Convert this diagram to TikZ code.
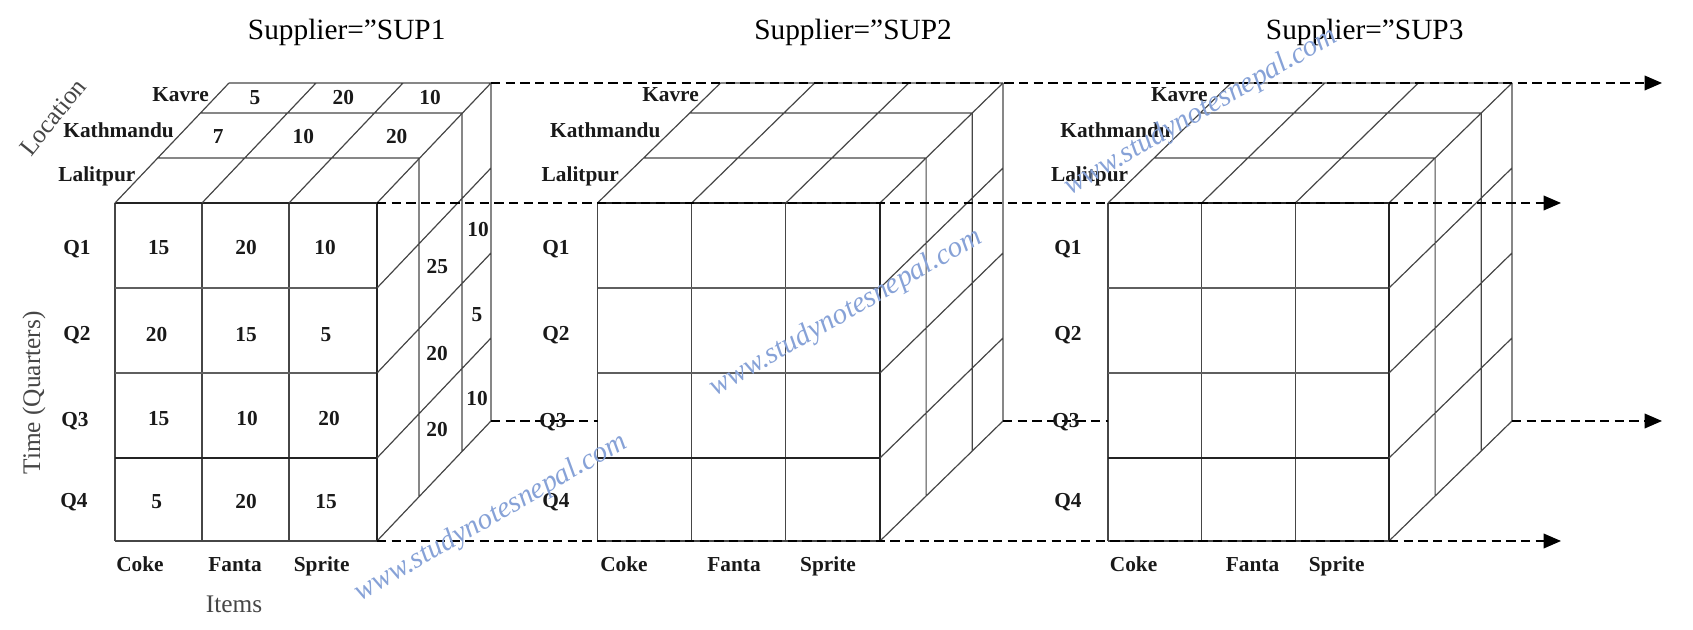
\documentclass[tikz,border=0pt]{standalone}
\usepackage{fontspec}
\setmainfont{Liberation Serif}
\usetikzlibrary{arrows.meta}

\begin{document}
\begin{tikzpicture}[x=0.75pt,y=0.75pt,yscale=-1,xscale=1,
  gridln/.style={draw={rgb, 255:red, 70; green, 70; blue, 70 }, line width=0.9pt},
  rowln/.style={draw={rgb, 255:red, 95; green, 95; blue, 95 }, line width=1.4pt},
  edgeln/.style={draw={rgb, 255:red, 35; green, 35; blue, 35 }, line width=1.5pt},
  guide/.style={draw=black, line width=1pt, dash pattern=on 7pt off 4pt},
  guidearrow/.style={guide, -{Triangle[length=13pt,width=11pt]}},
  cell/.style={inner sep=0.75pt, font=\bfseries\fontsize{16}{19}\selectfont, text={rgb, 255:red, 25; green, 25; blue, 25 }},
  axislbl/.style={inner sep=0.75pt, font=\fontsize{19}{22}\selectfont, text={rgb, 255:red, 70; green, 70; blue, 70 }},
  heading/.style={inner sep=0.75pt, font=\fontsize{22}{26}\selectfont},
  wmark/.style={inner sep=0.75pt, rotate=30, font=\itshape\fontsize{22}{26}\selectfont, text={rgb, 255:red, 135; green, 162; blue, 215 }}
]
\useasboundingbox (0,0) rectangle (1693,630);

%Shape: Cube SUP1 front
\draw [gridln] (115,203) -- (115,541) (202,203) -- (202,541) (289,203) -- (289,541) (115,541) -- (377,541) ;
\draw [rowln] (115,288) -- (377,288) (115,373) -- (377,373) ;
\draw [edgeln] (115,203) -- (377,203) -- (377,541) (115,458) -- (377,458) ;
%Shape: Cube SUP1 top
\draw [gridln] (157,158) -- (419,158) (200,113) -- (462,113) (229,83) -- (491,83) (115,203) -- (229,83) (202,203) -- (316,83) (289,203) -- (403,83) (377,203) -- (491,83) ;
%Shape: Cube SUP1 side
\draw [gridln] (419,158) -- (419,496) (462,113) -- (462,451) (491,83) -- (491,421) (377,288) -- (491,168) (377,373) -- (491,253) (377,458) -- (491,338) (377,541) -- (491,421) ;

%Shape: Cube SUP2 front
\draw [gridln] (597.5,203) -- (597.5,541) (691.7,203) -- (691.7,541) (785.8,203) -- (785.8,541) (597.5,541) -- (880,541) ;
\draw [rowln] (597.5,288) -- (880,288) (597.5,373) -- (880,373) ;
\draw [edgeln] (597.5,203) -- (880,203) -- (880,541) (597.5,458) -- (880,458) ;
%Shape: Cube SUP2 top
\draw [gridln] (643.6,158) -- (926.1,158) (689.7,113) -- (972.2,113) (720.5,83) -- (1003,83) (597.5,203) -- (720.5,83) (691.7,203) -- (814.7,83) (785.8,203) -- (908.8,83) (880,203) -- (1003,83) ;
%Shape: Cube SUP2 side
\draw [gridln] (926.1,158) -- (926.1,496) (972.2,113) -- (972.2,451) (1003,83) -- (1003,421) (880,288) -- (1003,168) (880,373) -- (1003,253) (880,458) -- (1003,338) (880,541) -- (1003,421) ;

%Shape: Cube SUP3 front
\draw [gridln] (1108,203) -- (1108,541) (1201.7,203) -- (1201.7,541) (1295.3,203) -- (1295.3,541) (1108,541) -- (1389,541) ;
\draw [rowln] (1108,288) -- (1389,288) (1108,373) -- (1389,373) ;
\draw [edgeln] (1108,203) -- (1389,203) -- (1389,541) (1108,458) -- (1389,458) ;
%Shape: Cube SUP3 top
\draw [gridln] (1154.1,158) -- (1435.1,158) (1200.3,113) -- (1481.3,113) (1231,83) -- (1512,83) (1108,203) -- (1231,83) (1201.7,203) -- (1324.7,83) (1295.3,203) -- (1418.3,83) (1389,203) -- (1512,83) ;
%Shape: Cube SUP3 side
\draw [gridln] (1435.1,158) -- (1435.1,496) (1481.3,113) -- (1481.3,451) (1512,83) -- (1512,421) (1389,288) -- (1512,168) (1389,373) -- (1512,253) (1389,458) -- (1512,338) (1389,541) -- (1512,421) ;

% Guide lines
\coordinate (a-ftr) at (377,203);
\coordinate (a-fbr) at (377,541);
\coordinate (a-btr) at (491,83);
\coordinate (a-bbr) at (491,421);
\coordinate (b-fq) at (597.5,421);
\coordinate (b-bbr) at (1003,421);
\coordinate (c-fq) at (1108,421);
\coordinate (c-bbr) at (1512,421);
\coordinate (end-top) at (1662,83);
\coordinate (end-front) at (1561,203);
\coordinate (end-q) at (1662,421);
\coordinate (end-base) at (1561,541);
\draw [guidearrow] (a-btr) -- (end-top) ;
\draw [guidearrow] (a-ftr) -- (end-front) ;
\draw [guide] (a-bbr) -- (b-fq) ;
\draw [guide] (b-bbr) -- (c-fq) ;
\draw [guidearrow] (c-bbr) -- (end-q) ;
\draw [guidearrow] (a-fbr) -- (end-base) ;

% Text Node
\node [heading, anchor=base] (t1) at (346.7,40) {Supplier=”SUP1};
\node [heading, anchor=base] (t2) at (853,40) {Supplier=”SUP2};
\node [heading, anchor=base] (t3) at (1364.7,40) {Supplier=”SUP3};
% Text Node
\node [axislbl, rotate=51] (loc) at (53,117) {Location};
\node [axislbl, rotate=90] (time) at (34,393) {Time (Quarters)};
\node [axislbl] (items) at (234,604) {Items};

% Text Node: SUP1
\node [cell, anchor=base east] (a-kavre) at (210,101.5) {Kavre};
\node [cell, anchor=base east] (a-ktm) at (175,137.5) {Kathmandu};
\node [cell, anchor=base east] (a-lal) at (136.7,181.5) {Lalitpur};
\node [cell] (a-q1) at (77,249) {Q1};
\node [cell] (a-q2) at (77,335) {Q2};
\node [cell] (a-q3) at (75,421) {Q3};
\node [cell] (a-q4) at (74,502) {Q4};
\node [cell, anchor=base] (a-coke) at (140,572) {Coke};
\node [cell, anchor=base] (a-fanta) at (235,572) {Fanta};
\node [cell, anchor=base] (a-sprite) at (321.7,572) {Sprite};
\node [cell, anchor=base] (a-t1) at (255,105) {5};
\node [cell, anchor=base] (a-t2) at (343.3,105) {20};
\node [cell, anchor=base] (a-t3) at (430,105) {10};
\node [cell, anchor=base] (a-t4) at (218.3,144) {7};
\node [cell, anchor=base] (a-t5) at (303.3,144) {10};
\node [cell, anchor=base] (a-t6) at (396.7,144) {20};
\node [cell] (a-v11) at (158.7,248) {15};
\node [cell] (a-v12) at (246,248) {20};
\node [cell] (a-v13) at (325,248) {10};
\node [cell] (a-v21) at (156.6,335) {20};
\node [cell] (a-v22) at (246,335) {15};
\node [cell] (a-v23) at (326,335) {5};
\node [cell] (a-v31) at (158.7,419) {15};
\node [cell] (a-v32) at (247,419) {10};
\node [cell] (a-v33) at (329,419) {20};
\node [cell] (a-v41) at (156.6,502) {5};
\node [cell] (a-v42) at (246,502) {20};
\node [cell] (a-v43) at (326,502) {15};
\node [cell] (a-s1) at (478,230) {10};
\node [cell] (a-s2) at (437.3,266.7) {25};
\node [cell] (a-s3) at (477,315) {5};
\node [cell] (a-s4) at (437,353.3) {20};
\node [cell] (a-s5) at (477,398.3) {10};
\node [cell] (a-s6) at (437,430) {20};

% Text Node: SUP2
\node [cell, anchor=base east] (b-kavre) at (700,101.5) {Kavre};
\node [cell, anchor=base east] (b-ktm) at (661.7,137.5) {Kathmandu};
\node [cell, anchor=base east] (b-lal) at (620,181.5) {Lalitpur};
\node [cell] (b-q1) at (556,249) {Q1};
\node [cell] (b-q2) at (556,335) {Q2};
\node [cell] (b-q3) at (553,422) {Q3};
\node [cell] (b-q4) at (556,502) {Q4};
\node [cell, anchor=base] (b-coke) at (624,572) {Coke};
\node [cell, anchor=base] (b-fanta) at (734,572) {Fanta};
\node [cell, anchor=base] (b-sprite) at (828,572) {Sprite};

% Text Node: SUP3
\node [cell, anchor=base east] (c-kavre) at (1208.8,101.5) {Kavre};
\node [cell, anchor=base east] (c-ktm) at (1172,137.5) {Kathmandu};
\node [cell, anchor=base east] (c-lal) at (1129.4,181.5) {Lalitpur};
\node [cell] (c-q1) at (1068,249) {Q1};
\node [cell] (c-q2) at (1068,335) {Q2};
\node [cell] (c-q3) at (1066,422) {Q3};
\node [cell] (c-q4) at (1068,502) {Q4};
\node [cell, anchor=base] (c-coke) at (1133.6,572) {Coke};
\node [cell, anchor=base] (c-fanta) at (1252.5,572) {Fanta};
\node [cell, anchor=base] (c-sprite) at (1336.7,572) {Sprite};

% Text Node: watermark
\node [wmark] (wm1) at (491,518) {www.studynotesnepal.com};
\node [wmark] (wm2) at (846,313) {www.studynotesnepal.com};
\node [wmark] (wm3) at (1201,112) {www.studynotesnepal.com};

\end{tikzpicture}
\end{document}
